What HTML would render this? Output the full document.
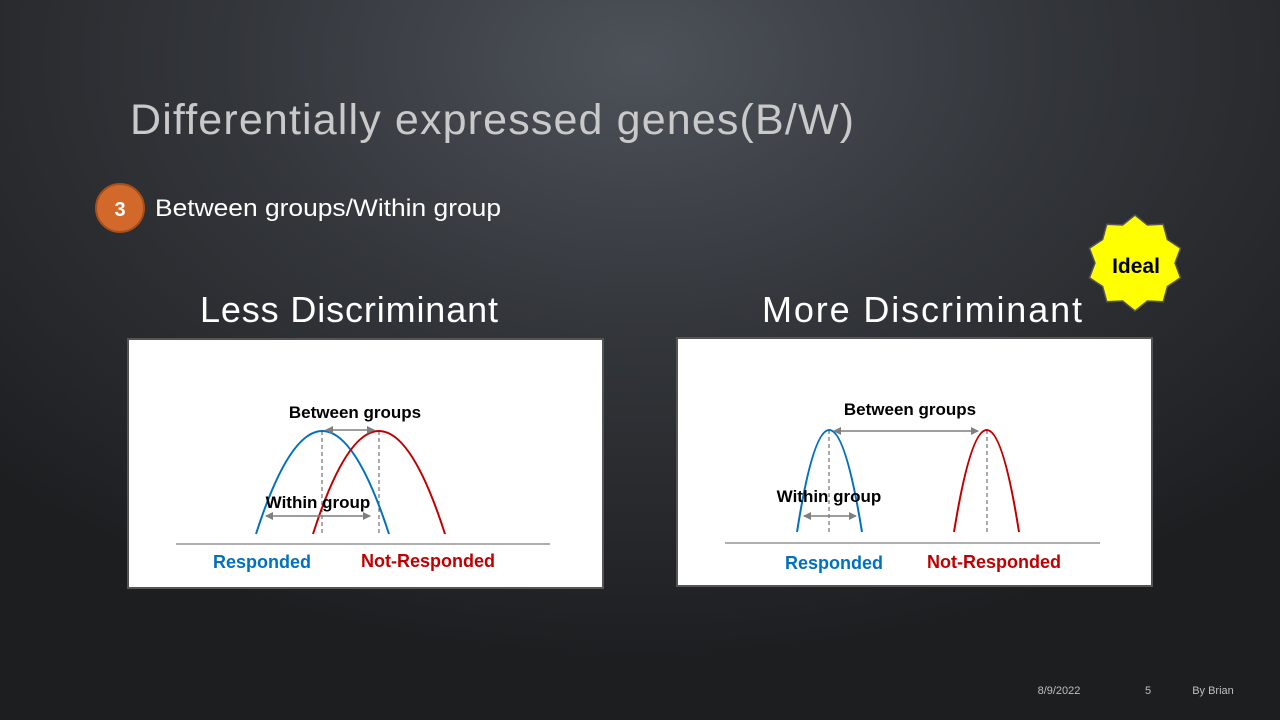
<!DOCTYPE html>
<html><head><meta charset="utf-8"><style>
html,body{margin:0;padding:0}
body{width:1280px;height:720px;overflow:hidden;background:radial-gradient(ellipse 900px 600px at 640px 60px,#4d5259 0%,#33363b 45%,#1d1e20 100%);font-family:"Liberation Sans",sans-serif}
</style></head><body>
<svg width="1280" height="720" viewBox="0 0 1280 720" xmlns="http://www.w3.org/2000/svg" style="position:absolute;left:0;top:0;font-family:'Liberation Sans',sans-serif">
<defs><marker id="a" markerWidth="8" markerHeight="8" refX="7" refY="4" orient="auto-start-reverse" markerUnits="userSpaceOnUse"><path d="M0,0 L8,4 L0,8 z" fill="#7f7f7f"/></marker></defs>
<text x="130" y="134" font-size="43" fill="#c9c9c9" textLength="724" lengthAdjust="spacing">Differentially expressed genes(B/W)</text>
<circle cx="120" cy="208" r="24" fill="#d2692b" stroke="#a84e1a" stroke-width="2"/>
<text x="120" y="216" font-size="20" font-weight="bold" fill="#fff" text-anchor="middle">3</text>
<text x="155" y="216" font-size="24" fill="#fff" textLength="346" lengthAdjust="spacingAndGlyphs">Between groups/Within group</text>
<text x="200" y="322" font-size="36" fill="#fff" textLength="298" lengthAdjust="spacing">Less Discriminant</text>
<text x="762" y="322" font-size="36" fill="#fff" textLength="320" lengthAdjust="spacing">More Discriminant</text>
<polygon points="1135,215 1147.4,225 1163.2,224.2 1167.4,239.5 1180.6,248.2 1175,263 1180.6,277.8 1167.4,286.5 1163.2,301.8 1147.4,301 1135,311 1122.6,301 1106.8,301.8 1102.6,286.5 1089.4,277.8 1095,263 1089.4,248.2 1102.6,239.5 1106.8,224.2 1122.6,225" fill="#ffff00" stroke="#555" stroke-width="1.5"/>
<text x="1136" y="273" font-size="21" font-weight="bold" fill="#000" text-anchor="middle">Ideal</text>
<rect x="128" y="339" width="475" height="249" fill="#fff" stroke="#555" stroke-width="2"/>
<line x1="322" y1="431" x2="322" y2="534" stroke="#555" stroke-dasharray="4,3"/>
<line x1="379" y1="431" x2="379" y2="534" stroke="#555" stroke-dasharray="4,3"/>
<path d="M256,534 Q322,328 389,534" fill="none" stroke="#0070c0" stroke-width="2"/>
<path d="M313,534 Q379,328 445,534" fill="none" stroke="#c00000" stroke-width="2"/>
<line x1="176" y1="544" x2="550" y2="544" stroke="#7f7f7f" stroke-width="1.2"/>
<line x1="326" y1="430" x2="374" y2="430" stroke="#7f7f7f" stroke-width="1.5" marker-start="url(#a)" marker-end="url(#a)"/>
<line x1="266" y1="516" x2="370" y2="516" stroke="#7f7f7f" stroke-width="1.5" marker-start="url(#a)" marker-end="url(#a)"/>
<text x="355" y="418" font-size="17" font-weight="bold" fill="#000" text-anchor="middle">Between groups</text>
<text x="318" y="508" font-size="17" font-weight="bold" fill="#000" text-anchor="middle">Within group</text>
<text x="262" y="568" font-size="18" font-weight="bold" fill="#0070c0" text-anchor="middle">Responded</text>
<text x="428" y="567" font-size="18" font-weight="bold" fill="#c00000" text-anchor="middle">Not-Responded</text>
<rect x="677" y="338" width="475" height="248" fill="#fff" stroke="#555" stroke-width="2"/>
<line x1="829" y1="430" x2="829" y2="532" stroke="#555" stroke-dasharray="4,3"/>
<line x1="987" y1="430" x2="987" y2="532" stroke="#555" stroke-dasharray="4,3"/>
<path d="M797,532 Q829,328 862,532" fill="none" stroke="#0070c0" stroke-width="2"/>
<path d="M954,532 Q987,328 1019,532" fill="none" stroke="#c00000" stroke-width="2"/>
<line x1="725" y1="543" x2="1100" y2="543" stroke="#7f7f7f" stroke-width="1.2"/>
<line x1="834" y1="431" x2="978" y2="431" stroke="#7f7f7f" stroke-width="1.5" marker-start="url(#a)" marker-end="url(#a)"/>
<line x1="804" y1="516" x2="856" y2="516" stroke="#7f7f7f" stroke-width="1.5" marker-start="url(#a)" marker-end="url(#a)"/>
<text x="910" y="415" font-size="17" font-weight="bold" fill="#000" text-anchor="middle">Between groups</text>
<text x="829" y="502" font-size="17" font-weight="bold" fill="#000" text-anchor="middle">Within group</text>
<text x="834" y="569" font-size="18" font-weight="bold" fill="#0070c0" text-anchor="middle">Responded</text>
<text x="994" y="568" font-size="18" font-weight="bold" fill="#c00000" text-anchor="middle">Not-Responded</text>
<text x="1059" y="694" font-size="11" fill="#bfbfbf" text-anchor="middle">8/9/2022</text>
<text x="1148" y="694" font-size="11" fill="#bfbfbf" text-anchor="middle">5</text>
<text x="1213" y="694" font-size="11" fill="#bfbfbf" text-anchor="middle">By Brian</text>
</svg>
</body></html>
